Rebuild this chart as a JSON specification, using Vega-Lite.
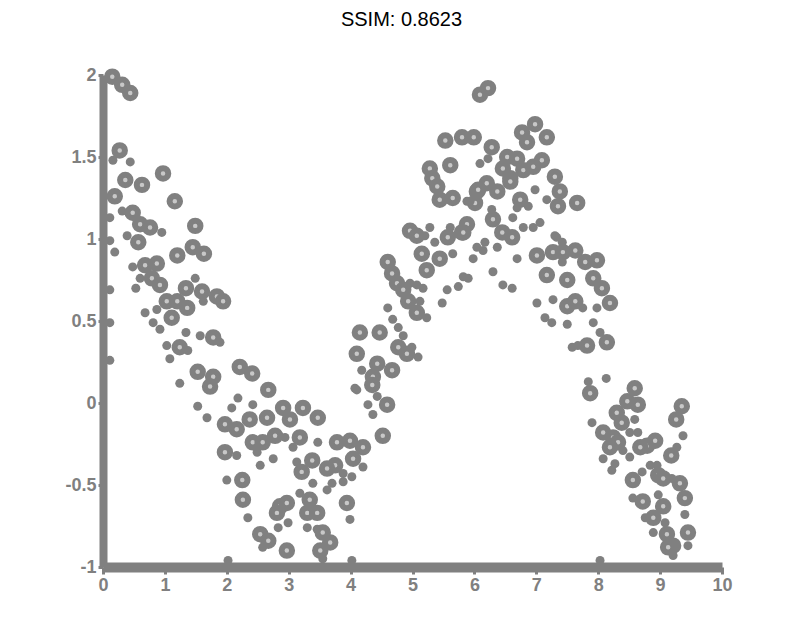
{
"$schema":"https://vega.github.io/schema/vega-lite/v6.json",
"width":619,"height":492,
"autosize":{"type":"none"},
"padding":{"left":103,"top":75,"right":78,"bottom":65},
"background":"white",
"title":{"text":"SSIM: 0.8623","fontSize":20,"font":"Liberation Sans","fontWeight":"normal","color":"#000000","anchor":"middle","frame":"group","dx":-11,"offset":29},
"config":{"view":{"stroke":null},"axis":{"grid":false,"domainColor":"#808080","tickColor":"#808080","labelColor":"#808080","labelFont":"Liberation Sans","labelFontSize":18,"labelFontWeight":"bold","tickWidth":3,"title":null}},
"data":{"values":[
{"x":0.15,"y":1.99,"k":"b"},{"x":0.31,"y":1.94,"k":"b"},{"x":0.44,"y":1.89,"k":"b"},
{"x":0.24,"y":1.52,"k":"s"},{"x":0.27,"y":1.54,"k":"b"},{"x":0.16,"y":1.48,"k":"s"},{"x":0.44,"y":1.47,"k":"s"},{"x":0.36,"y":1.36,"k":"b"},{"x":0.63,"y":1.33,"k":"b"},{"x":0.97,"y":1.40,"k":"b"},{"x":0.19,"y":1.26,"k":"b"},{"x":1.16,"y":1.23,"k":"b"},{"x":0.31,"y":1.17,"k":"s"},{"x":0.48,"y":1.16,"k":"b"},{"x":0.60,"y":1.09,"k":"b"},{"x":0.76,"y":1.07,"k":"b"},{"x":0.95,"y":1.04,"k":"s"},{"x":1.49,"y":1.08,"k":"b"},{"x":0.39,"y":1.02,"k":"s"},{"x":0.57,"y":0.98,"k":"b"},{"x":0.11,"y":0.99,"k":"s"},{"x":0.19,"y":0.92,"k":"s"},{"x":1.20,"y":0.90,"k":"b"},{"x":1.45,"y":0.95,"k":"b"},{"x":1.63,"y":0.91,"k":"b"},{"x":0.48,"y":0.83,"k":"s"},{"x":0.68,"y":0.84,"k":"b"},{"x":0.87,"y":0.85,"k":"b"},{"x":0.60,"y":0.76,"k":"s"},{"x":0.79,"y":0.76,"k":"b"},{"x":0.92,"y":0.72,"k":"b"},{"x":1.49,"y":0.76,"k":"s"},{"x":1.34,"y":0.70,"k":"b"},{"x":1.60,"y":0.68,"k":"b"},{"x":1.84,"y":0.65,"k":"b"},{"x":1.94,"y":0.62,"k":"b"},{"x":1.62,"y":0.62,"k":"s"},{"x":0.53,"y":0.70,"k":"s"},{"x":1.03,"y":0.62,"k":"b"},{"x":1.20,"y":0.62,"k":"b"},{"x":1.36,"y":0.58,"k":"b"},{"x":0.68,"y":0.55,"k":"s"},{"x":0.87,"y":0.57,"k":"s"},{"x":1.11,"y":0.52,"k":"b"},{"x":0.81,"y":0.49,"k":"s"},{"x":0.92,"y":0.45,"k":"s"},{"x":1.34,"y":0.43,"k":"s"},{"x":1.57,"y":0.41,"k":"s"},{"x":1.78,"y":0.40,"k":"b"},{"x":1.89,"y":0.37,"k":"s"},{"x":1.03,"y":0.35,"k":"s"},{"x":1.24,"y":0.34,"k":"b"},{"x":1.37,"y":0.32,"k":"s"},{"x":1.08,"y":0.27,"k":"s"},{"x":1.53,"y":0.19,"k":"b"},{"x":1.78,"y":0.16,"k":"b"},{"x":2.21,"y":0.22,"k":"b"},{"x":0.11,"y":0.26,"k":"s"},{"x":0.11,"y":0.49,"k":"s"},{"x":0.11,"y":0.69,"k":"s"},{"x":0.11,"y":1.13,"k":"s"},
{"x":1.73,"y":0.10,"k":"b"},{"x":1.24,"y":0.12,"k":"s"},{"x":2.41,"y":0.18,"k":"b"},{"x":2.67,"y":0.08,"k":"b"},{"x":4.10,"y":0.30,"k":"b"},{"x":4.10,"y":0.08,"k":"s"},{"x":1.53,"y":-0.02,"k":"s"},{"x":2.08,"y":-0.03,"k":"s"},{"x":2.18,"y":0.03,"k":"s"},{"x":2.42,"y":-0.01,"k":"s"},{"x":1.68,"y":-0.09,"k":"s"},{"x":1.97,"y":-0.13,"k":"b"},{"x":2.16,"y":-0.16,"k":"b"},{"x":2.37,"y":-0.10,"k":"b"},{"x":2.65,"y":-0.09,"k":"b"},{"x":2.91,"y":-0.03,"k":"b"},{"x":3.23,"y":-0.03,"k":"b"},{"x":3.02,"y":-0.10,"k":"b"},{"x":3.47,"y":-0.09,"k":"b"},{"x":2.78,"y":-0.20,"k":"b"},{"x":2.94,"y":-0.21,"k":"s"},{"x":3.18,"y":-0.21,"k":"b"},{"x":3.07,"y":-0.27,"k":"s"},{"x":3.47,"y":-0.24,"k":"s"},{"x":2.42,"y":-0.24,"k":"b"},{"x":2.58,"y":-0.24,"k":"b"},{"x":2.49,"y":-0.30,"k":"s"},{"x":1.97,"y":-0.30,"k":"b"},{"x":2.16,"y":-0.32,"k":"s"},{"x":2.75,"y":-0.34,"k":"s"},{"x":2.54,"y":-0.38,"k":"s"},{"x":3.13,"y":-0.36,"k":"s"},{"x":3.38,"y":-0.35,"k":"b"},{"x":3.21,"y":-0.42,"k":"b"},{"x":3.78,"y":-0.24,"k":"b"},{"x":3.99,"y":-0.23,"k":"b"},{"x":4.20,"y":-0.27,"k":"b"},{"x":3.75,"y":-0.38,"k":"b"},{"x":4.04,"y":-0.34,"k":"b"},{"x":3.62,"y":-0.40,"k":"b"},{"x":3.88,"y":-0.43,"k":"s"},{"x":4.20,"y":-0.39,"k":"s"},{"x":3.70,"y":-0.49,"k":"s"},{"x":3.88,"y":-0.48,"k":"s"},{"x":4.02,"y":-0.45,"k":"s"},{"x":3.62,"y":-0.53,"k":"s"},{"x":3.39,"y":-0.49,"k":"s"},{"x":2.00,"y":-0.47,"k":"s"},{"x":2.25,"y":-0.47,"k":"b"},{"x":2.26,"y":-0.59,"k":"b"},{"x":2.34,"y":-0.70,"k":"s"},{"x":3.94,"y":-0.61,"k":"b"},{"x":3.99,"y":-0.71,"k":"s"},{"x":2.86,"y":-0.63,"k":"b"},{"x":2.97,"y":-0.61,"k":"b"},{"x":2.81,"y":-0.67,"k":"b"},{"x":2.83,"y":-0.76,"k":"s"},{"x":2.99,"y":-0.73,"k":"s"},{"x":3.18,"y":-0.55,"k":"s"},{"x":3.34,"y":-0.59,"k":"b"},{"x":3.30,"y":-0.67,"k":"b"},{"x":3.46,"y":-0.67,"k":"b"},{"x":3.30,"y":-0.76,"k":"s"},{"x":3.46,"y":-0.77,"k":"s"},{"x":3.55,"y":-0.79,"k":"b"},{"x":2.54,"y":-0.80,"k":"b"},{"x":2.67,"y":-0.84,"k":"b"},{"x":2.58,"y":-0.88,"k":"s"},{"x":2.97,"y":-0.90,"k":"b"},{"x":3.51,"y":-0.90,"k":"b"},{"x":3.67,"y":-0.85,"k":"b"},{"x":3.55,"y":-0.95,"k":"s"},{"x":2.02,"y":-0.96,"k":"s"},{"x":4.02,"y":-0.96,"k":"s"},
{"x":5.53,"y":1.60,"k":"b"},{"x":5.80,"y":1.62,"k":"b"},{"x":5.99,"y":1.62,"k":"b"},{"x":5.61,"y":1.45,"k":"b"},{"x":6.09,"y":1.46,"k":"s"},{"x":6.28,"y":1.56,"k":"b"},{"x":6.22,"y":1.49,"k":"s"},{"x":5.28,"y":1.43,"k":"b"},{"x":5.32,"y":1.37,"k":"b"},{"x":5.40,"y":1.32,"k":"b"},{"x":5.44,"y":1.24,"k":"b"},{"x":5.65,"y":1.25,"k":"b"},{"x":5.88,"y":1.23,"k":"s"},{"x":6.01,"y":1.22,"k":"b"},{"x":6.04,"y":1.29,"k":"b"},{"x":6.20,"y":1.34,"k":"b"},{"x":6.37,"y":1.29,"k":"b"},{"x":6.46,"y":1.43,"k":"b"},{"x":6.58,"y":1.37,"k":"b"},{"x":6.53,"y":1.50,"k":"b"},{"x":6.69,"y":1.49,"k":"b"},{"x":6.79,"y":1.42,"k":"b"},{"x":6.95,"y":1.44,"k":"b"},{"x":6.77,"y":1.65,"k":"b"},{"x":6.85,"y":1.59,"k":"b"},{"x":6.98,"y":1.70,"k":"b"},{"x":6.98,"y":1.30,"k":"s"},{"x":6.74,"y":1.24,"k":"b"},{"x":6.69,"y":1.19,"k":"s"},{"x":6.28,"y":1.18,"k":"s"},{"x":6.30,"y":1.12,"k":"b"},{"x":6.45,"y":1.04,"k":"b"},{"x":6.61,"y":1.01,"k":"b"},{"x":6.62,"y":1.13,"k":"s"},{"x":6.79,"y":1.07,"k":"s"},{"x":6.95,"y":1.07,"k":"s"},{"x":7.01,"y":0.90,"k":"b"},{"x":6.69,"y":0.88,"k":"s"},{"x":6.30,"y":0.80,"k":"s"},{"x":6.46,"y":0.72,"k":"s"},{"x":6.61,"y":0.70,"k":"s"},{"x":7.01,"y":0.61,"k":"s"},{"x":4.96,"y":1.05,"k":"b"},{"x":5.07,"y":1.02,"k":"b"},{"x":5.28,"y":1.07,"k":"s"},{"x":5.20,"y":1.02,"k":"s"},{"x":5.36,"y":0.98,"k":"s"},{"x":5.61,"y":1.07,"k":"s"},{"x":5.57,"y":1.01,"k":"b"},{"x":5.80,"y":1.04,"k":"b"},{"x":5.88,"y":1.09,"k":"b"},{"x":5.15,"y":0.91,"k":"b"},{"x":5.44,"y":0.88,"k":"b"},{"x":5.65,"y":0.91,"k":"s"},{"x":6.17,"y":0.98,"k":"s"},{"x":6.04,"y":0.95,"k":"s"},{"x":6.14,"y":0.93,"k":"s"},{"x":5.98,"y":0.88,"k":"s"},{"x":6.37,"y":0.95,"k":"s"},{"x":5.23,"y":0.81,"k":"b"},{"x":4.60,"y":0.86,"k":"b"},{"x":4.67,"y":0.79,"k":"b"},{"x":4.75,"y":0.73,"k":"b"},{"x":4.85,"y":0.69,"k":"b"},{"x":4.96,"y":0.73,"k":"s"},{"x":5.07,"y":0.72,"k":"s"},{"x":5.17,"y":0.70,"k":"s"},{"x":4.93,"y":0.62,"k":"b"},{"x":5.12,"y":0.62,"k":"s"},{"x":5.07,"y":0.55,"k":"b"},{"x":5.23,"y":0.52,"k":"s"},{"x":5.56,"y":0.69,"k":"s"},{"x":5.74,"y":0.71,"k":"s"},{"x":5.82,"y":0.77,"k":"s"},{"x":5.90,"y":0.76,"k":"s"},{"x":5.48,"y":0.61,"k":"s"},{"x":4.60,"y":0.58,"k":"s"},{"x":4.68,"y":0.51,"k":"s"},{"x":4.77,"y":0.46,"k":"s"},{"x":4.85,"y":0.41,"k":"s"},{"x":4.77,"y":0.34,"k":"b"},{"x":4.91,"y":0.30,"k":"b"},{"x":4.99,"y":0.34,"k":"s"},{"x":5.09,"y":0.28,"k":"s"},{"x":4.15,"y":0.43,"k":"b"},{"x":4.47,"y":0.43,"k":"b"},{"x":4.43,"y":0.24,"k":"b"},{"x":4.67,"y":0.20,"k":"b"},{"x":4.36,"y":0.16,"k":"b"},{"x":4.35,"y":0.11,"k":"b"},{"x":4.18,"y":0.20,"k":"s"},{"x":4.07,"y":0.09,"k":"s"},{"x":4.43,"y":0.04,"k":"s"},{"x":4.28,"y":-0.01,"k":"s"},{"x":4.59,"y":-0.01,"k":"b"},{"x":4.36,"y":-0.07,"k":"s"},{"x":4.52,"y":-0.20,"k":"b"},
{"x":6.09,"y":1.88,"k":"b"},{"x":6.22,"y":1.92,"k":"b"},{"x":7.17,"y":1.62,"k":"b"},{"x":7.09,"y":1.48,"k":"b"},{"x":7.30,"y":1.38,"k":"b"},{"x":7.38,"y":1.29,"k":"b"},{"x":7.66,"y":1.22,"k":"b"},{"x":7.35,"y":1.20,"k":"b"},{"x":7.17,"y":1.24,"k":"s"},{"x":6.87,"y":1.20,"k":"s"},{"x":6.58,"y":1.35,"k":"b"},{"x":6.06,"y":1.30,"k":"b"},{"x":5.93,"y":1.23,"k":"s"},{"x":7.06,"y":1.10,"k":"s"},{"x":7.30,"y":1.02,"k":"s"},{"x":5.82,"y":1.04,"k":"b"},{"x":7.27,"y":0.92,"k":"b"},{"x":7.43,"y":0.92,"k":"b"},{"x":7.63,"y":0.93,"k":"b"},{"x":7.42,"y":0.86,"k":"s"},{"x":7.79,"y":0.86,"k":"b"},{"x":7.98,"y":0.87,"k":"b"},{"x":7.42,"y":0.98,"k":"s"},{"x":7.17,"y":0.78,"k":"b"},{"x":7.50,"y":0.75,"k":"b"},{"x":7.92,"y":0.76,"k":"b"},{"x":8.06,"y":0.70,"k":"b"},{"x":7.27,"y":0.63,"k":"s"},{"x":7.50,"y":0.59,"k":"b"},{"x":7.63,"y":0.62,"k":"b"},{"x":7.75,"y":0.58,"k":"s"},{"x":7.98,"y":0.58,"k":"s"},{"x":8.19,"y":0.61,"k":"b"},{"x":7.14,"y":0.52,"k":"s"},{"x":7.25,"y":0.49,"k":"s"},{"x":7.50,"y":0.48,"k":"s"},{"x":7.92,"y":0.49,"k":"s"},{"x":8.03,"y":0.43,"k":"s"},{"x":7.58,"y":0.34,"k":"s"},{"x":7.67,"y":0.35,"k":"s"},{"x":7.82,"y":0.35,"k":"b"},{"x":8.14,"y":0.37,"k":"b"},{"x":7.33,"y":1.01,"k":"s"},
{"x":7.84,"y":0.13,"k":"s"},{"x":8.13,"y":0.15,"k":"s"},{"x":7.87,"y":0.06,"k":"b"},{"x":8.59,"y":0.09,"k":"b"},{"x":8.47,"y":0.01,"k":"b"},{"x":8.64,"y":-0.01,"k":"b"},{"x":8.30,"y":-0.06,"k":"b"},{"x":8.38,"y":-0.12,"k":"b"},{"x":8.59,"y":-0.10,"k":"s"},{"x":9.35,"y":-0.02,"k":"b"},{"x":9.26,"y":-0.10,"k":"b"},{"x":9.37,"y":-0.20,"k":"s"},{"x":7.90,"y":-0.12,"k":"s"},{"x":8.08,"y":-0.18,"k":"b"},{"x":8.24,"y":-0.21,"k":"b"},{"x":8.32,"y":-0.24,"k":"b"},{"x":8.51,"y":-0.18,"k":"s"},{"x":8.64,"y":-0.18,"k":"s"},{"x":8.19,"y":-0.27,"k":"b"},{"x":8.40,"y":-0.29,"k":"s"},{"x":8.79,"y":-0.26,"k":"b"},{"x":8.92,"y":-0.23,"k":"b"},{"x":8.68,"y":-0.27,"k":"b"},{"x":8.51,"y":-0.33,"k":"s"},{"x":8.08,"y":-0.34,"k":"s"},{"x":8.22,"y":-0.41,"k":"s"},{"x":8.27,"y":-0.37,"k":"s"},{"x":9.27,"y":-0.27,"k":"s"},{"x":9.18,"y":-0.32,"k":"b"},{"x":8.56,"y":-0.47,"k":"b"},{"x":8.71,"y":-0.42,"k":"s"},{"x":8.84,"y":-0.38,"k":"s"},{"x":8.95,"y":-0.38,"k":"s"},{"x":8.97,"y":-0.44,"k":"b"},{"x":9.05,"y":-0.46,"k":"b"},{"x":9.19,"y":-0.46,"k":"s"},{"x":9.32,"y":-0.49,"k":"b"},{"x":8.56,"y":-0.58,"k":"s"},{"x":8.72,"y":-0.60,"k":"b"},{"x":8.97,"y":-0.56,"k":"s"},{"x":9.05,"y":-0.63,"k":"b"},{"x":9.40,"y":-0.58,"k":"b"},{"x":9.40,"y":-0.68,"k":"s"},{"x":8.89,"y":-0.70,"k":"b"},{"x":8.76,"y":-0.70,"k":"s"},{"x":9.08,"y":-0.73,"k":"s"},{"x":8.89,"y":-0.79,"k":"s"},{"x":9.11,"y":-0.80,"k":"b"},{"x":9.21,"y":-0.87,"k":"b"},{"x":9.45,"y":-0.79,"k":"b"},{"x":9.45,"y":-0.87,"k":"s"},{"x":9.13,"y":-0.88,"k":"b"},{"x":9.21,"y":-0.93,"k":"s"},{"x":8.03,"y":-0.96,"k":"s"}
]},
"mark":{"type":"point","shape":"circle","filled":true,"stroke":"#808080","opacity":1},
"encoding":{
"x":{"field":"x","type":"quantitative","scale":{"domain":[0,10],"nice":false,"zero":false},"axis":{"values":[0,1,2,3,4,5,6,7,8,9,10],"domainWidth":10,"tickSize":7,"labelPadding":2,"labelFlush":false}},
"y":{"field":"y","type":"quantitative","scale":{"domain":[-1,2],"nice":false,"zero":false},"axis":{"values":[-1,-0.5,0,0.5,1,1.5,2],"labelExpr":"datum.value + ''","domainWidth":8,"tickSize":5,"labelPadding":2,"labelFlush":false}},
"fill":{"field":"k","type":"nominal","scale":{"domain":["b","s"],"range":["#c8c8c8","#808080"]},"legend":null},
"size":{"field":"k","type":"nominal","scale":{"domain":["b","s"],"range":[110,81]},"legend":null},
"strokeWidth":{"field":"k","type":"nominal","scale":{"domain":["b","s"],"range":[6,0]},"legend":null}
}
}
